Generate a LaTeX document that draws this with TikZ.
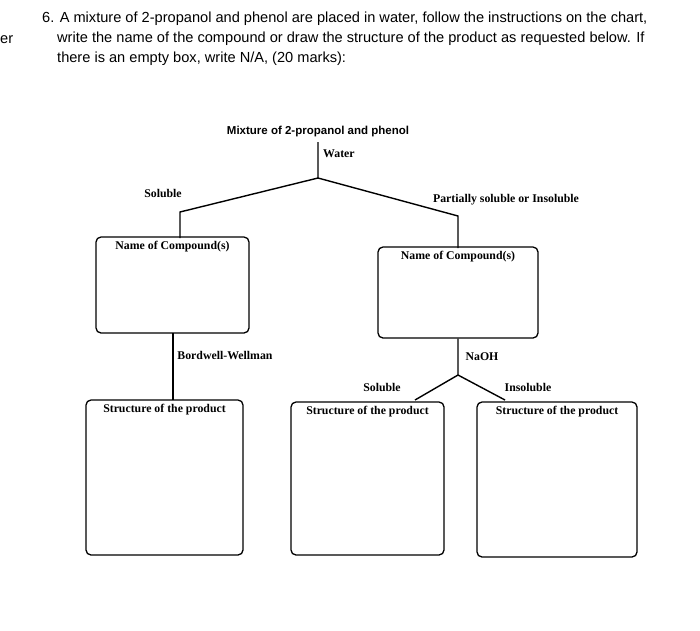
\documentclass[tikz,border=0pt]{standalone}
\usepackage{fontspec}
\setmainfont{Liberation Serif}
\newfontfamily\hfont{Liberation Sans}
\begin{document}
\begin{tikzpicture}[x=1pt,y=-1pt,
  box/.style={draw,line width=1.3pt,rounded corners=5pt},
  lab/.style={font=\fontsize{11.8}{13}\selectfont\bfseries,inner sep=1pt},
  hd/.style={font=\hfont\fontsize{14.6}{17}\selectfont,anchor=west,inner sep=0pt},
  ln/.style={line width=1.4pt}]
\useasboundingbox (0,0) rectangle (700,630);
\node[hd] (er) at (0,40) {er};
\node[hd] (h1) at (42,19) {6. A mixture of 2-propanol and phenol are placed in water, follow the instructions on the chart,};
\node[hd] (h2) at (57,39) {write the name of the compound or draw the structure of the product as requested below. If};
\node[hd] (h3) at (57,59) {there is an empty box, write N/A, (20 marks):};
\node[font=\hfont\fontsize{11.5}{13}\selectfont\bfseries] (mix) at (318,132) {Mixture of 2-propanol and phenol};
\coordinate (top) at (318,142);
\coordinate (fork) at (318,178);
\coordinate (lc) at (180,212);
\coordinate (rc) at (458,216);
\draw[ln] (top) -- (fork) -- (lc) -- (180,238);
\draw[ln] (fork) -- (rc) -- (458,248);
\node[lab,anchor=west] (water) at (322,154) {Water};
\node[lab] (sol1) at (163,193) {Soluble};
\node[lab] (pis) at (506,200) {Partially soluble or Insoluble};
\node[box,minimum width=153pt,minimum height=96pt] (b1) at (172.5,285) {};
\node[lab,anchor=north] at (b1.north) [yshift=-4pt] {Name of Compound(s)};
\node[box,minimum width=160pt,minimum height=91pt] (b2) at (458,292.5) {};
\node[lab,anchor=north] at (b2.north) [yshift=-4pt] {Name of Compound(s)};
\node[box,minimum width=157pt,minimum height=155pt] (s1) at (164.5,477.5) {};
\node[lab,anchor=north] at (s1.north) [yshift=-4pt] {Structure of the product};
\node[box,minimum width=153pt,minimum height=153pt] (s2) at (367.5,478.5) {};
\node[lab,anchor=north] at (s2.north) [yshift=-4pt] {Structure of the product};
\node[box,minimum width=160pt,minimum height=155pt] (s3) at (557,479.5) {};
\node[lab,anchor=north] at (s3.north) [yshift=-4pt] {Structure of the product};
\draw[ln] (173,333) -- (173,400);
\node[lab] (bw) at (225,355) {Bordwell-Wellman};
\coordinate (nf) at (458,375);
\draw[ln] (b2.south -| nf) -- (nf) -- (415,400);
\draw[ln] (nf) -- (505,400);
\node[lab] (naoh) at (482,357) {NaOH};
\node[lab] (sol2) at (382,387) {Soluble};
\node[lab] (ins) at (528,387) {Insoluble};
\end{tikzpicture}
\end{document}
